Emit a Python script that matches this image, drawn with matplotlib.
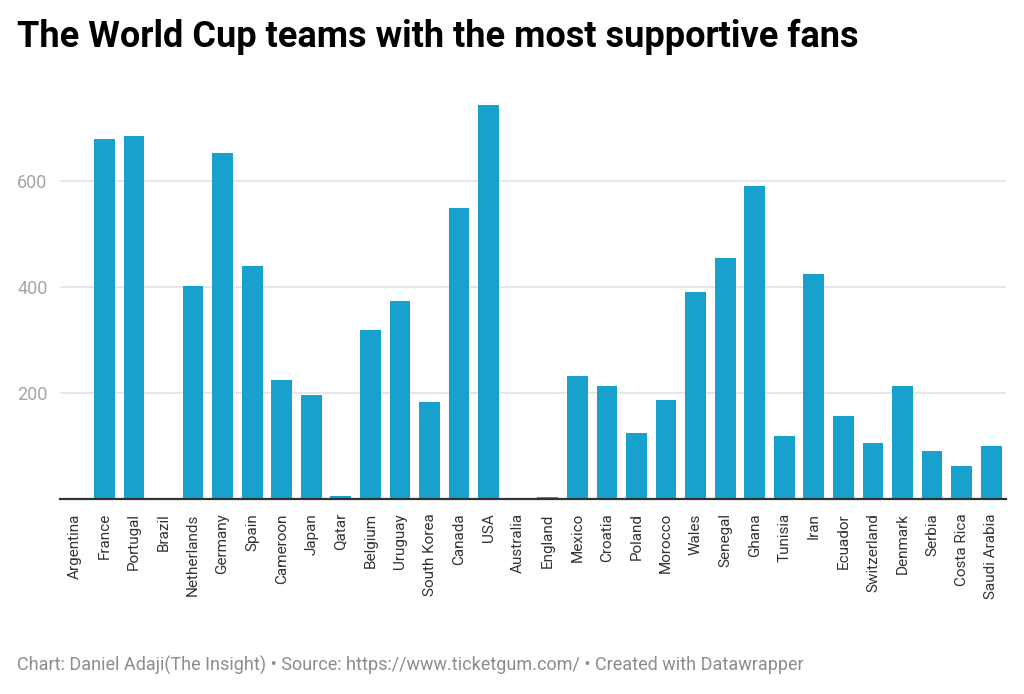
import matplotlib.pyplot as plt
import numpy as np

plt.rcParams['font.family'] = ['Roboto', 'DejaVu Sans']

# Teams in chart order
teams = ["Argentina", "France", "Portugal", "Brazil", "Netherlands", "Germany",
         "Spain", "Cameroon", "Japan", "Qatar", "Belgium", "Uruguay",
         "South Korea", "Canada", "USA", "Australia", "England", "Mexico",
         "Croatia", "Poland", "Morocco", "Wales", "Senegal", "Ghana",
         "Tunisia", "Iran", "Ecuador", "Switzerland", "Denmark", "Serbia",
         "Costa Rica", "Saudi Arabia"]

# Values
fans = [0, 680, 686, 0, 402, 653,
        440, 226, 197, 7, 319, 374,
        183, 550, 744, 0, 4, 233,
        214, 126, 187, 392, 456, 591,
        119, 426, 158, 107, 213, 92,
        62, 101]

y_ticks = [200, 400, 600]

bar_color = "#18a1cd"

fig = plt.figure(figsize=(10.24, 6.94), dpi=100)
ax = fig.add_axes([60/1024, 1 - 499.3/694, 946/1024, 402.8/694])

x = np.arange(len(teams))
ax.bar(x, fans, width=0.7, color=bar_color, zorder=3)

ax.set_xlim(-0.5, len(teams) - 0.5)
ax.set_ylim(0, 760)

ax.set_yticks(y_ticks)
ax.set_yticklabels([str(v) for v in y_ticks])
ax.yaxis.grid(True, color="#e5e5e5", linewidth=1.3, zorder=0)
ax.tick_params(axis="y", length=0, pad=9, labelsize=13, labelcolor="#a6a6a6")

ax.set_xticks(x)
ax.set_xticklabels(teams, rotation=90)
ax.tick_params(axis="x", length=0, pad=10, labelsize=11, labelcolor="#333333")

for s in ["top", "right", "left"]:
    ax.spines[s].set_visible(False)
ax.spines["bottom"].set_color("#333333")
ax.spines["bottom"].set_linewidth(1.6)
ax.spines["bottom"].set_zorder(4)

fig.text(17/1024, 1 - 37/694, "The World Cup teams with the most supportive fans",
         fontsize=26, fontweight="bold", color="#000000", va="center", ha="left")

fig.text(17/1024, 1 - 665/694,
         "Chart: Daniel Adaji(The Insight) • Source: https://www.ticketgum.com/ • Created with Datawrapper",
         fontsize=13, color="#8c8c8c", va="center", ha="left")

fig.savefig("out.png", dpi=100, facecolor="white")
